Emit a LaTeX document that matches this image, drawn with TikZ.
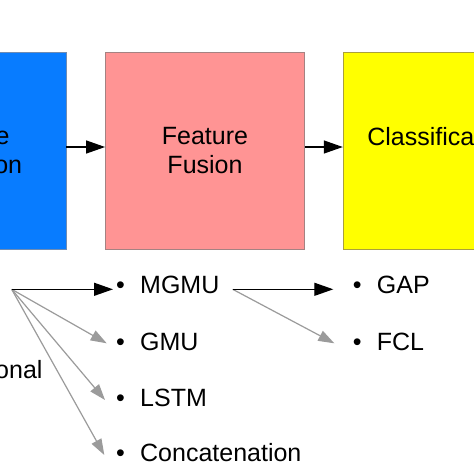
\documentclass[tikz,border=0pt]{standalone}
\usepackage{fontspec}
\setmainfont{Liberation Sans}
\usetikzlibrary{arrows.meta}
\definecolor{boxblue}{RGB}{8,124,255}
\definecolor{boxpink}{RGB}{255,148,148}
\definecolor{boxyellow}{RGB}{255,255,0}
\definecolor{blueedge}{RGB}{110,140,180}
\definecolor{pinkedge}{RGB}{165,130,130}
\definecolor{yellowedge}{RGB}{170,160,60}
\definecolor{arrgray}{RGB}{155,155,155}
\newcommand\bulitem[1]{\rlap{\textbullet}\hspace{24pt}#1}
\begin{document}
\begin{tikzpicture}[x=1pt,y=-1pt]
\tikzset{
 stage/.style={minimum width=199pt, minimum height=197pt, inner sep=0pt, line width=0.8pt, align=center, font=\fontsize{25}{28.5}\selectfont},
 lbl/.style={inner sep=0pt, font=\fontsize{25}{28.5}\selectfont},
 blk/.style={draw=black, line width=1.3pt, -{Triangle[length=19pt,width=13pt]}},
 gry/.style={draw=arrgray, line width=1.2pt, -{Triangle[length=16pt,width=11pt]}}
}
\useasboundingbox (0,0) rectangle (474,474);
\clip (0,0) rectangle (474,474);
\fill[white] (0,0) rectangle (474,474);
\node[stage, fill=boxblue, draw=blueedge] (ext) at (-33.5,150.6) {Feature\\Extraction};
\node[stage, fill=boxpink, draw=pinkedge] (fus) at (205,150.6) {Feature\\Fusion};
\node[stage, fill=boxyellow, draw=yellowedge] (cls) at (442.7,150.6) {};
\node[lbl, anchor=base] (clstxt) at (441,145) {Classification};
\coordinate (ay) at (0,147);
\draw[blk] (ext.east |- ay) -- (fus.west |- ay);
\draw[blk] (fus.east |- ay) -- (cls.west |- ay);
% lists
\node[lbl, anchor=base east] (conv) at (42.7,378) {Convolutional};
\node[lbl, anchor=base west] (mgmu) at (116,293.3) {\bulitem{MGMU}};
\node[lbl, anchor=base west] (gmu) at (116,350) {\bulitem{GMU}};
\node[lbl, anchor=base west] (lstm) at (116,406) {\bulitem{LSTM}};
\node[lbl, anchor=base west] (conc) at (116,461.7) {\bulitem{Concatenation}};
\node[lbl, anchor=base west] (gap) at (352.7,293.3) {\bulitem{GAP}};
\node[lbl, anchor=base west] (fcl) at (352.7,350) {\bulitem{FCL}};
\coordinate (s1) at (11.7,289.3);
\coordinate (s2) at (232.7,289.3);
\draw[gry] (s1) -- ([shift={(-9.3pt,6.7pt)}]gmu.base west);
\draw[gry] (s1) -- ([shift={(-11pt,6pt)}]lstm.base west);
\draw[gry] (s1) -- ([shift={(-11.7pt,6.7pt)}]conc.base west);
\draw[blk] (s1) -- ([shift={(-3pt,4pt)}]mgmu.base west);
\draw[gry] (s2) -- ([shift={(-18.4pt,6.7pt)}]fcl.base west);
\draw[blk] (s2) -- ([shift={(-19.4pt,4pt)}]gap.base west);
\end{tikzpicture}
\end{document}
